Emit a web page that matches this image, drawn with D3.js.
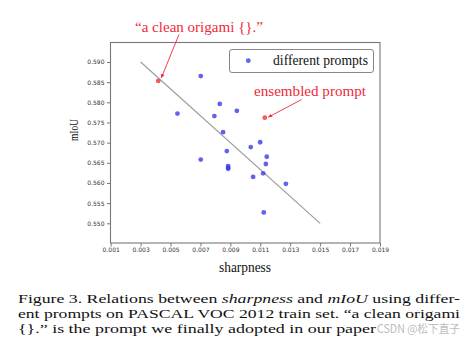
<!DOCTYPE html>
<html><head><meta charset="utf-8">
<script src="https://cdn.jsdelivr.net/npm/d3@7"></script>
<style>body{margin:0;background:#fff}svg{display:block}</style>
</head><body><svg id="c" width="474" height="356"></svg>
<script>
const xTicks = [0.001,0.003,0.005,0.007,0.009,0.011,0.013,0.015,0.017,0.019];
const yTicks = [0.550,0.555,0.560,0.565,0.570,0.575,0.580,0.585,0.590];
const promptSharpness = [0.00702,0.00546,0.00829,0.00793,0.00943,0.00851,0.01036,0.01099,0.00876,0.00702,0.01143,0.01137,0.00885,0.00885,0.00885,0.01119,0.01052,0.01271,0.01123];
const promptMiou      = [0.5865,0.5772,0.5796,0.5766,0.5779,0.5726,0.5689,0.5701,0.5679,0.5658,0.5665,0.5647,0.5642,0.5635,0.5638,0.5624,0.5615,0.5598,0.5527];
const highlightNames = ["“a clean origami {}.”","ensembled prompt"];
const highlightSharpness = [0.00418,0.0113];
const highlightMiou = [0.5853,0.5762];
const fitLineX = [0.003,0.015];
const fitLineY = [0.590,0.550];

const svg = d3.select("#c");
const x = d3.scaleLinear().domain([0.001,0.019]).range([110.7,380]);
const y = d3.scaleLinear().domain([0.550,0.590]).range([223.3,62]);
const L=110.5,R=380,T=42.5,B=243;

const g = svg.append("g");
g.append("rect").attr("x",L).attr("y",T).attr("width",R-L).attr("height",B-T)
 .attr("fill","none").attr("stroke","#777").attr("stroke-width",1.1);

const xa = g.append("g").attr("transform",`translate(0,${B})`)
 .call(d3.axisBottom(x).tickValues(xTicks).tickFormat(d3.format(".3f")).tickSize(3.5).tickSizeOuter(0));
const ya = g.append("g").attr("transform",`translate(${L},0)`)
 .call(d3.axisLeft(y).tickValues(yTicks).tickFormat(d3.format(".3f")).tickSize(3.5).tickSizeOuter(0));
[xa,ya].forEach(a=>{
  a.select(".domain").remove();
  a.selectAll("line").attr("stroke","#777");
  a.selectAll("text").attr("font-family","DejaVu Sans").attr("font-size","6px").attr("fill","#333");
});
xa.selectAll("text").attr("dy","0.9em").attr("y",4);
ya.selectAll("text").attr("x",-6);

g.append("line").attr("x1",x(fitLineX[0])).attr("y1",y(fitLineY[0]))
 .attr("x2",x(fitLineX[1])).attr("y2",y(fitLineY[1]))
 .attr("stroke","#9a9a9a").attr("stroke-width",1.1);

g.selectAll("circle.p").data(promptSharpness.map((s,i)=>[s,promptMiou[i]])).join("circle")
 .attr("class","p").attr("cx",d=>x(d[0])).attr("cy",d=>y(d[1])).attr("r",2.4)
 .attr("fill","#3b3be8").attr("fill-opacity",0.8);
g.selectAll("circle.h").data(highlightSharpness.map((s,i)=>[s,highlightMiou[i]])).join("circle")
 .attr("class","h").attr("cx",d=>x(d[0])).attr("cy",d=>y(d[1])).attr("r",2.4)
 .attr("fill","#ee4a4a").attr("fill-opacity",0.9);

g.append("rect").attr("x",229.5).attr("y",49.5).attr("width",144).attr("height",23).attr("rx",2.5)
 .attr("fill","#fff").attr("stroke","#888").attr("stroke-width",1);
g.append("circle").attr("cx",248.3).attr("cy",60.7).attr("r",2.4).attr("fill","#3b3be8").attr("fill-opacity",0.8);
g.append("text").attr("x",273).attr("y",65).attr("font-family","Liberation Serif").attr("font-size","14px")
 .attr("fill","#111").attr("textLength",95).attr("lengthAdjust","spacingAndGlyphs").text("different prompts");

const defs = svg.append("defs");
defs.append("marker").attr("id","ar").attr("viewBox","0 0 10 10").attr("refX",9).attr("refY",5)
 .attr("markerWidth",5).attr("markerHeight",5).attr("orient","auto")
 .append("path").attr("d","M0,1 L10,5 L0,9 z").attr("fill","#ee2a3a");
svg.append("text").attr("x",135).attr("y",32)
 .attr("font-family","Liberation Serif").attr("font-size","15px").attr("fill","#ee2a3a")
 .attr("textLength",128).attr("lengthAdjust","spacingAndGlyphs").text(highlightNames[0]);
svg.append("line").attr("x1",179).attr("y1",34.5).attr("x2",x(highlightSharpness[0])+3).attr("y2",y(highlightMiou[0])-3)
 .attr("stroke","#ee2a3a").attr("stroke-width",0.9).attr("marker-end","url(#ar)");
svg.append("text").attr("x",254).attr("y",96)
 .attr("font-family","Liberation Serif").attr("font-size","15px").attr("fill","#ee2a3a")
 .attr("textLength",112).attr("lengthAdjust","spacingAndGlyphs").text(highlightNames[1]);
svg.append("line").attr("x1",301.7).attr("y1",99.5).attr("x2",x(highlightSharpness[1])+3.5).attr("y2",y(highlightMiou[1])-0.5)
 .attr("stroke","#ee2a3a").attr("stroke-width",0.9).attr("marker-end","url(#ar)");

svg.append("text").attr("x",219).attr("y",272)
 .attr("font-family","Liberation Serif").attr("font-size","14px").attr("fill","#111")
 .attr("textLength",52).attr("lengthAdjust","spacingAndGlyphs").text("sharpness");
svg.append("text").attr("transform","translate(78,130) rotate(-90)").attr("x",-11)
 .attr("font-family","Liberation Serif").attr("font-size","12.5px").attr("fill","#111")
 .attr("textLength",22).attr("lengthAdjust","spacingAndGlyphs").text("mIoU");

const cap = svg.append("g").attr("font-family","Liberation Serif").attr("font-size","13px").attr("fill","#111");
const l1 = cap.append("text").attr("x",18).attr("y",302.5).attr("textLength",442).attr("lengthAdjust","spacingAndGlyphs");
l1.append("tspan").text("Figure 3. Relations between ");
l1.append("tspan").attr("font-style","italic").text("sharpness");
l1.append("tspan").text(" and ");
l1.append("tspan").attr("font-style","italic").text("mIoU");
l1.append("tspan").text(" using differ-");
cap.append("text").attr("x",18).attr("y",317.5).attr("textLength",442).attr("lengthAdjust","spacingAndGlyphs")
 .text("ent prompts on PASCAL VOC 2012 train set.  “a clean origami");
cap.append("text").attr("x",18).attr("y",332.5).attr("textLength",358).attr("lengthAdjust","spacingAndGlyphs")
 .text("{}.” is the prompt we finally adopted in our paper");
svg.append("text").attr("x",377).attr("y",332.5)
 .attr("font-family","Noto Sans CJK SC").attr("font-size","11.5px").attr("fill","#bdbdbd")
 .attr("textLength",83).attr("lengthAdjust","spacingAndGlyphs").text("CSDN @松下直子");
</script></body></html>
